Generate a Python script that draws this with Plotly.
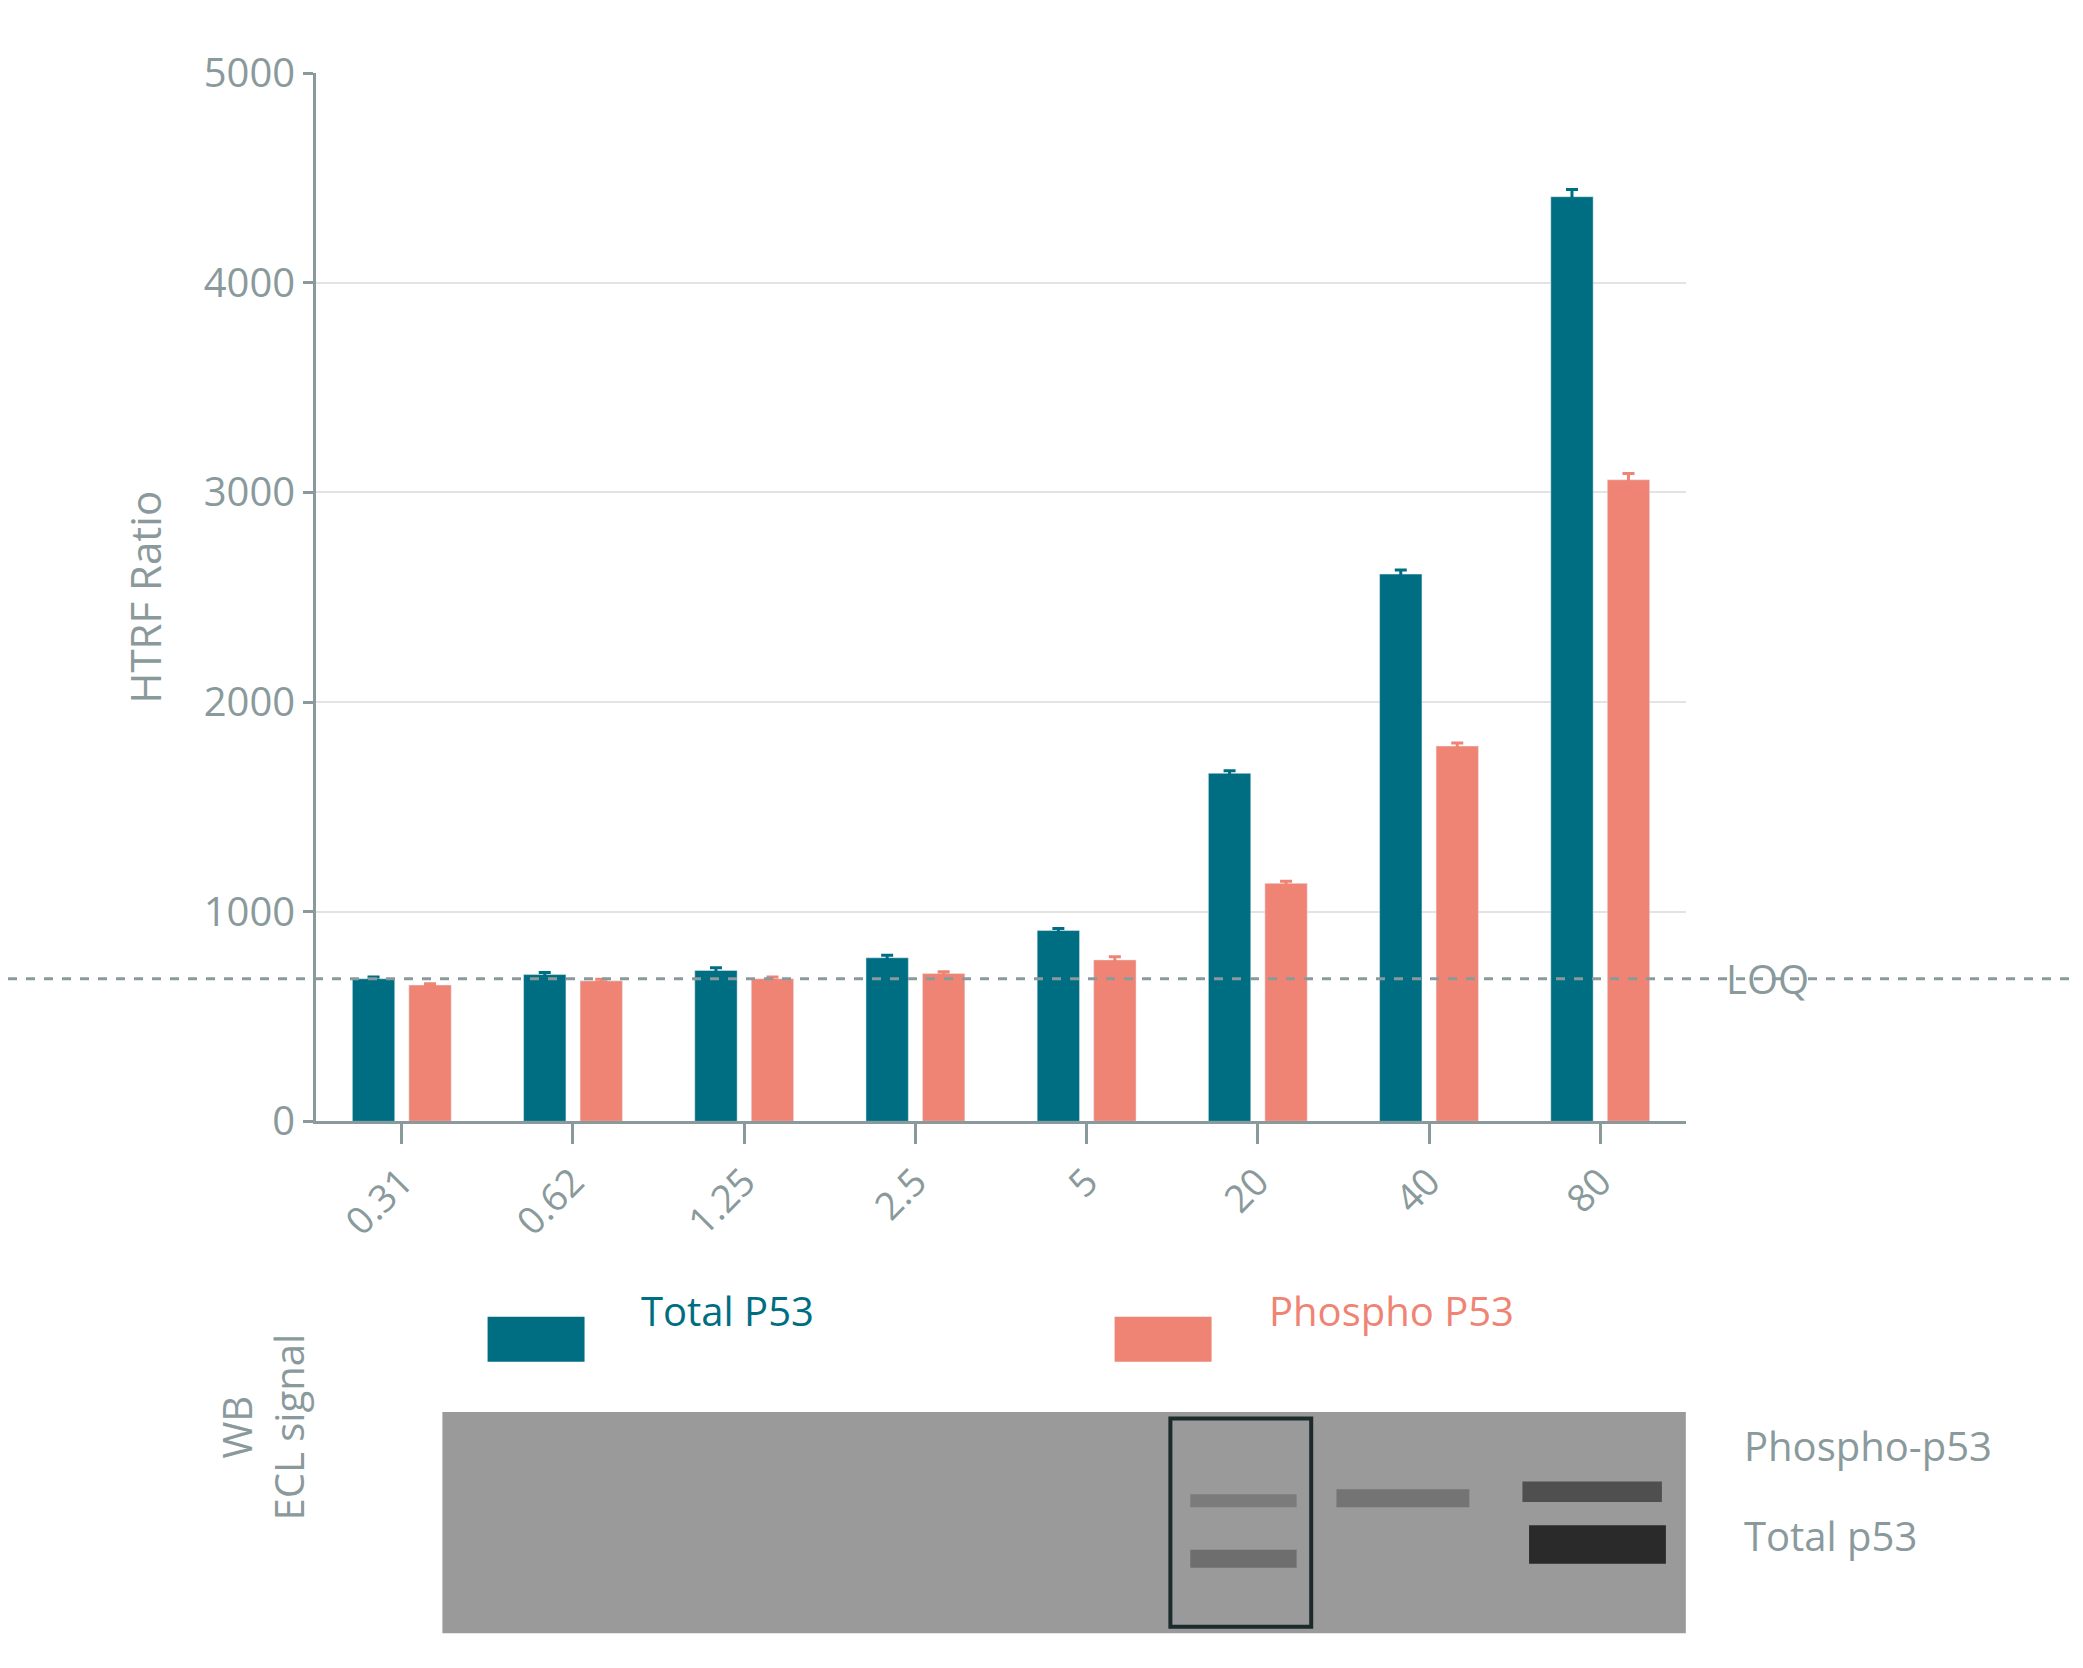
import plotly.graph_objects as go

concentrations = ["0.31", "0.62", "1.25", "2.5", "5", "20", "40", "80"]
total_p53 = [680, 700, 720, 780, 910, 1660, 2610, 4410]
total_err = [8, 10, 12, 12, 10, 12, 20, 35]
phospho_p53 = [650, 670, 680, 705, 770, 1135, 1790, 3060]
phospho_err = [6, 8, 8, 8, 15, 10, 15, 30]
loq = 680
y_ticks = [0, 1000, 2000, 3000, 4000, 5000]

TEAL = "#006e82"
SALMON = "#f08474"
GREY = "#8a9a9c"
FONT = "Open Sans"

W0, H0 = 1568, 1254  # reference pixel grid used for layout


def px(x):
    return x / W0


def py(y):
    return 1 - y / H0


fig = go.Figure()
fig.add_trace(go.Bar(x=concentrations, y=total_p53, name="Total P53", marker_color=TEAL,
                     error_y=dict(type="data", array=total_err, color=TEAL, thickness=3, width=6)))
fig.add_trace(go.Bar(x=concentrations, y=phospho_p53, name="Phospho P53", marker_color=SALMON,
                     error_y=dict(type="data", array=phospho_err, color=SALMON, thickness=3, width=6)))

shapes = [
    dict(type="line", xref="paper", yref="y", x0=0, x1=1, y0=loq, y1=loq,
         line=dict(color=GREY, width=3, dash="dash")),
    # legend swatches
    dict(type="rect", xref="paper", yref="paper", x0=px(361), x1=px(434), y0=py(995), y1=py(1030),
         fillcolor=TEAL, line_width=0),
    dict(type="rect", xref="paper", yref="paper", x0=px(833), x1=px(906), y0=py(995), y1=py(1030),
         fillcolor=SALMON, line_width=0),
    # western blot
    dict(type="rect", xref="paper", yref="paper", x0=px(327), x1=px(1263), y0=py(1069), y1=py(1241),
         fillcolor="#9a9a9a", line_width=0),
]
# bands: (x0, x1, yc, height, opacity)
bands = [
    (890, 970, 1138, 10, 0.25), (890, 970, 1183, 14, 0.35),
    (1000, 1100, 1136, 14, 0.3),
    (1140, 1245, 1131, 16, 0.6), (1145, 1248, 1172, 30, 0.9),
]
for x0, x1, yc, h, op in bands:
    shapes.append(dict(type="rect", xref="paper", yref="paper", x0=px(x0), x1=px(x1),
                       y0=py(yc + h / 2), y1=py(yc - h / 2), fillcolor="#1e1e1e",
                       opacity=op, line_width=0))
shapes.append(dict(type="rect", xref="paper", yref="paper", x0=px(875), x1=px(981),
                   y0=py(1074), y1=py(1236), line=dict(color="#1c2a2c", width=4)))

annotations = [
    dict(text="LOQ", x=px(1292), y=loq, xref="paper", yref="y", xanchor="left", showarrow=False,
         font=dict(family=FONT, size=40, color=GREY)),
    dict(text="Total P53", x=px(475), y=py(1013), xref="paper", yref="paper", xanchor="left",
         showarrow=False, font=dict(family=FONT, size=40, color=TEAL)),
    dict(text="Phospho P53", x=px(948), y=py(1013), xref="paper", yref="paper", xanchor="left",
         showarrow=False, font=dict(family=FONT, size=40, color=SALMON)),
    dict(text="Phospho-p53", x=px(1305), y=py(1118), xref="paper", yref="paper", xanchor="left",
         showarrow=False, font=dict(family=FONT, size=40, color=GREY)),
    dict(text="Total p53", x=px(1305), y=py(1188), xref="paper", yref="paper", xanchor="left",
         showarrow=False, font=dict(family=FONT, size=40, color=GREY)),
    dict(text="WB<br>ECL signal", x=px(150), y=py(1155), xref="paper", yref="paper",
         textangle=-90, showarrow=False, font=dict(family=FONT, size=40, color=GREY)),
]

fig.update_layout(
    width=2083, height=1668,
    margin=dict(l=0, r=0, t=0, b=0),
    plot_bgcolor="white", paper_bgcolor="white",
    showlegend=False,
    barmode="group", bargap=0.34, bargroupgap=0.25,
    font=dict(family=FONT, color=GREY),
    xaxis=dict(domain=[px(232), px(1263)], showline=True, linecolor=GREY, linewidth=3,
               ticks="outside", ticklen=20, tickwidth=3, tickcolor=GREY, tickangle=-45,
               tickfont=dict(size=38, color=GREY)),
    yaxis=dict(domain=[py(843), py(28)], range=[0, 5000], tickvals=y_ticks,
               showline=True, linecolor=GREY, linewidth=3, ticks="outside", ticklen=10,
               tickwidth=3, tickcolor=GREY, gridcolor="#e3e3e3", gridwidth=2, zeroline=False,
               tickfont=dict(size=40, color=GREY),
               title=dict(text="HTRF Ratio", font=dict(size=42, color=GREY), standoff=30)),
    shapes=shapes, annotations=annotations,
)

fig.write_html("out.html")
